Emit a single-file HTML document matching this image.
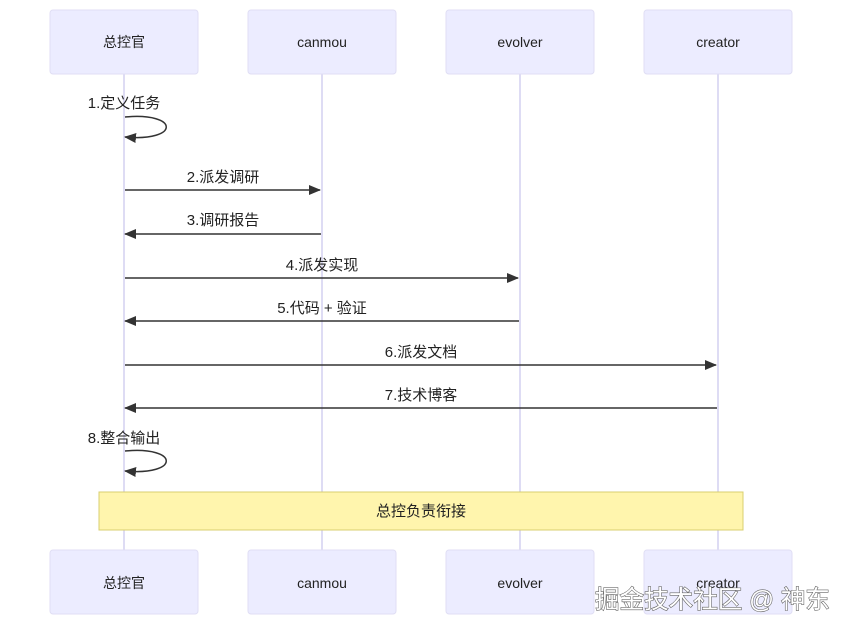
<!DOCTYPE html>
<html><head><meta charset="utf-8"><style>
html,body{margin:0;padding:0;background:#fff;width:850px;height:632px;overflow:hidden}
svg text{font-family:"Liberation Sans","Noto Sans CJK SC",sans-serif}
</style></head><body>
<svg width="850" height="632" viewBox="0 0 850 632" xmlns="http://www.w3.org/2000/svg">
<defs>
<marker id="ah" viewBox="0 0 12 10" refX="11" refY="5" markerWidth="12" markerHeight="10" markerUnits="userSpaceOnUse" orient="auto">
<path d="M0,0 L12,5 L0,10 z" fill="#333"/></marker>
</defs>
<g stroke="#d4d0f0" stroke-width="1.5">
<line x1="124" y1="74" x2="124" y2="550"/>
<line x1="322" y1="74" x2="322" y2="550"/>
<line x1="520" y1="74" x2="520" y2="550"/>
<line x1="718" y1="74" x2="718" y2="550"/>
</g>
<g fill="#ececff" stroke="#e0def4" stroke-width="1">
<rect x="50" y="10" width="148" height="64" rx="3"/>
<rect x="248" y="10" width="148" height="64" rx="3"/>
<rect x="446" y="10" width="148" height="64" rx="3"/>
<rect x="644" y="10" width="148" height="64" rx="3"/>
<rect x="50" y="550" width="148" height="64" rx="3"/>
<rect x="248" y="550" width="148" height="64" rx="3"/>
<rect x="446" y="550" width="148" height="64" rx="3"/>
<rect x="644" y="550" width="148" height="64" rx="3"/>
</g>
<g font-size="14" fill="#222" text-anchor="middle">
<text x="124" y="47">总控官</text>
<text x="322" y="47">canmou</text>
<text x="520" y="47">evolver</text>
<text x="718" y="47">creator</text>
<text x="124" y="588">总控官</text>
<text x="322" y="588">canmou</text>
<text x="520" y="588">evolver</text>
<text x="718" y="588">creator</text>
</g>
<rect x="99" y="492" width="644" height="38" fill="#fff5ad" stroke="#d8cf70" stroke-width="1"/>
<text x="421" y="516" font-size="15" fill="#222" text-anchor="middle">总控负责衔接</text>
<g stroke="#333" stroke-width="1.5" fill="none" marker-end="url(#ah)">
<path d="M125,117 C180,112 180,142 125,137"/>
<path d="M125,451 C180,446 180,476 125,471"/>
<line x1="125" y1="190" x2="320" y2="190"/>
<line x1="321" y1="234" x2="125" y2="234"/>
<line x1="125" y1="278" x2="518" y2="278"/>
<line x1="519" y1="321" x2="125" y2="321"/>
<line x1="125" y1="365" x2="716" y2="365"/>
<line x1="717" y1="408" x2="125" y2="408"/>
</g>
<g font-size="15" fill="#222" text-anchor="middle">
<text x="124" y="108">1.定义任务</text>
<text x="223" y="182">2.派发调研</text>
<text x="223" y="225">3.调研报告</text>
<text x="322" y="270">4.派发实现</text>
<text x="322" y="313">5.代码 + 验证</text>
<text x="421" y="357">6.派发文档</text>
<text x="421" y="400">7.技术博客</text>
<text x="124" y="443">8.整合输出</text>
</g>
<text x="595" y="608" font-size="25" fill="#fff" stroke="#666" stroke-width="1.2" textLength="235" lengthAdjust="spacingAndGlyphs" style="paint-order:stroke">掘金技术社区 @ 神东</text>
</svg>
</body></html>
